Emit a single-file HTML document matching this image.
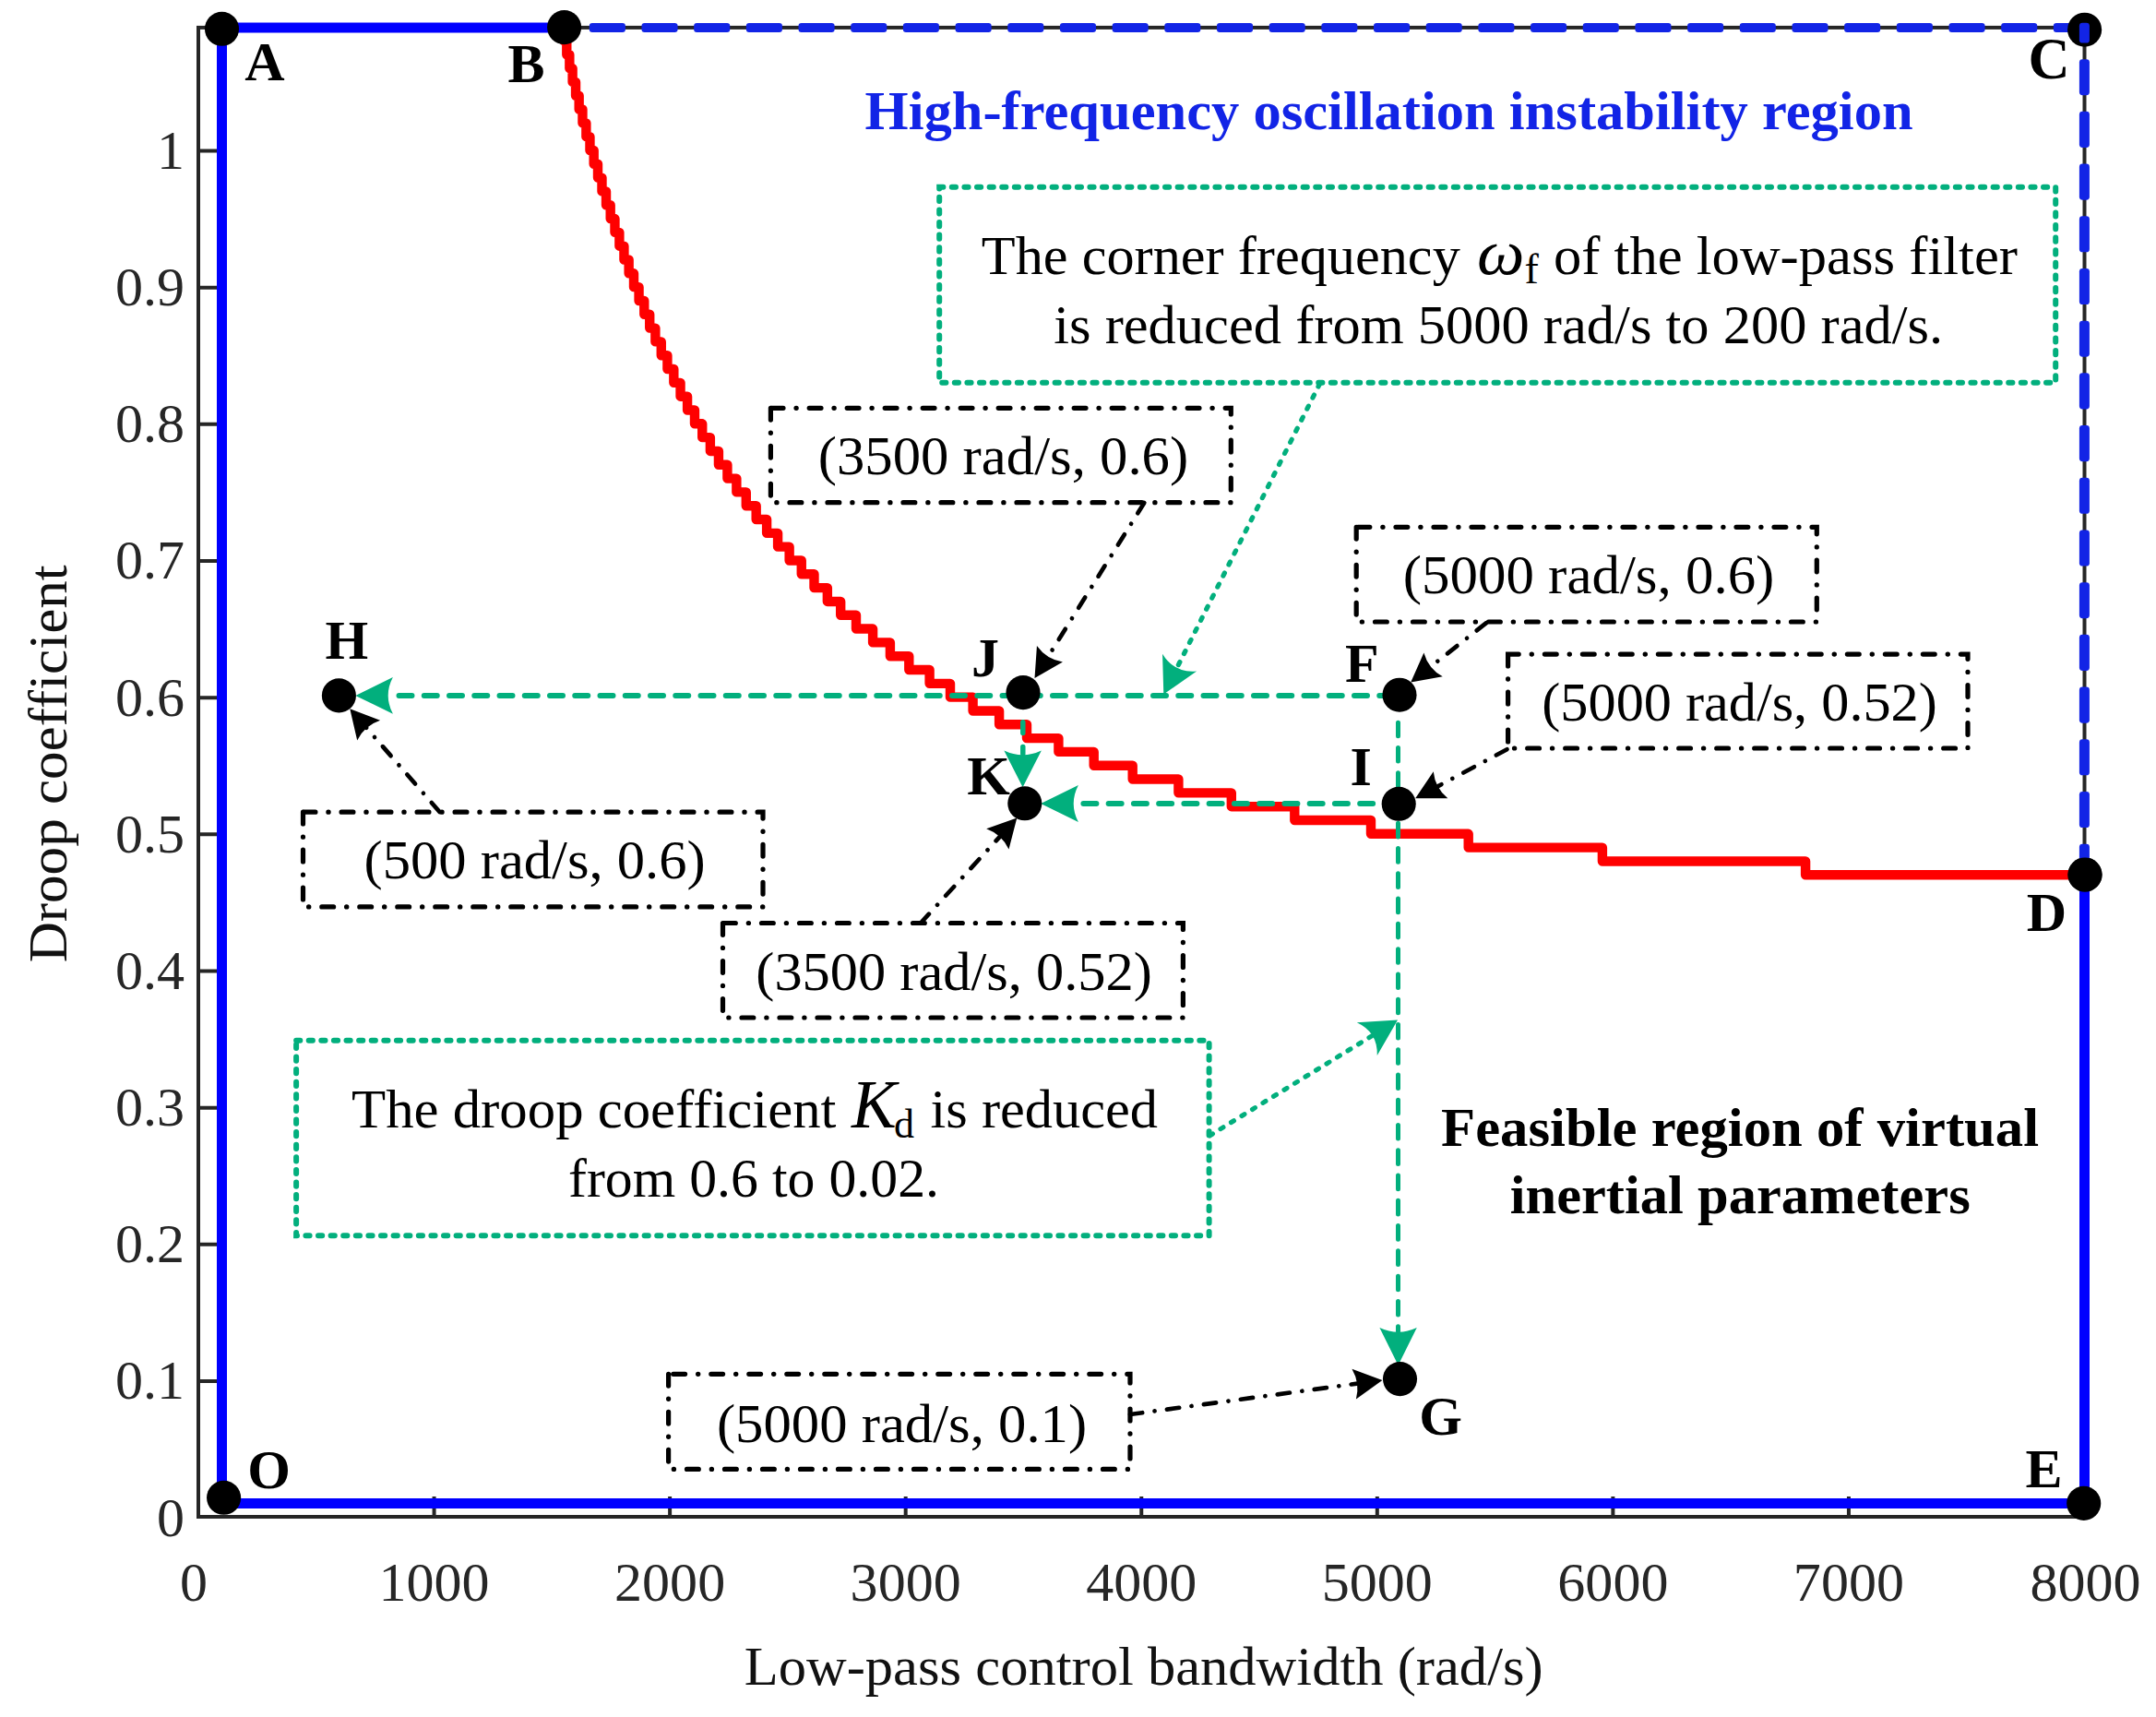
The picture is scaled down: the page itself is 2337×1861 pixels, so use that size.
<!DOCTYPE html>
<html lang="en">
<head>
<meta charset="utf-8">
<title>Feasible region of virtual inertial parameters</title>
<style>
html,body{margin:0;padding:0;background:#fff;}
svg{display:block;}
text{font-family:"Liberation Serif",serif;white-space:pre;}
</style>
</head>
<body>
<svg width="2337" height="1861" viewBox="0 0 2337 1861">
<rect width="2337" height="1861" fill="#fff"/>
<rect x="215" y="29.9" width="2044.5" height="1614.1" fill="none" stroke="#262626" stroke-width="4"/>
<path d="M470.56 1644V1622M726.12 1644V1622M981.69 1644V1622M1237.25 1644V1622M1492.81 1644V1622M1748.38 1644V1622M2003.94 1644V1622M215 1497H237M215 1348.83H237M215 1200.66H237M215 1052.49H237M215 904.32H237M215 756.15H237M215 607.98H237M215 459.81H237M215 311.64H237M215 163.47H237" stroke="#262626" stroke-width="4" fill="none"/>
<g font-size="58.3" fill="#262626" text-anchor="middle">
<text x="210" y="1735" textLength="30.02" lengthAdjust="spacingAndGlyphs">0</text>
<text x="470.56" y="1735" textLength="120.1" lengthAdjust="spacingAndGlyphs">1000</text>
<text x="726.12" y="1735" textLength="120.1" lengthAdjust="spacingAndGlyphs">2000</text>
<text x="981.69" y="1735" textLength="120.1" lengthAdjust="spacingAndGlyphs">3000</text>
<text x="1237.25" y="1735" textLength="120.1" lengthAdjust="spacingAndGlyphs">4000</text>
<text x="1492.81" y="1735" textLength="120.1" lengthAdjust="spacingAndGlyphs">5000</text>
<text x="1748.38" y="1735" textLength="120.1" lengthAdjust="spacingAndGlyphs">6000</text>
<text x="2003.94" y="1735" textLength="120.1" lengthAdjust="spacingAndGlyphs">7000</text>
<text x="2260.5" y="1735" textLength="120.1" lengthAdjust="spacingAndGlyphs">8000</text>
</g>
<g font-size="58.3" fill="#262626" text-anchor="end">
<text x="200" y="1664.57" textLength="30.02" lengthAdjust="spacingAndGlyphs">0</text>
<text x="200" y="1516.4" textLength="75.06" lengthAdjust="spacingAndGlyphs">0.1</text>
<text x="200" y="1368.23" textLength="75.06" lengthAdjust="spacingAndGlyphs">0.2</text>
<text x="200" y="1220.06" textLength="75.06" lengthAdjust="spacingAndGlyphs">0.3</text>
<text x="200" y="1071.89" textLength="75.06" lengthAdjust="spacingAndGlyphs">0.4</text>
<text x="200" y="923.72" textLength="75.06" lengthAdjust="spacingAndGlyphs">0.5</text>
<text x="200" y="775.55" textLength="75.06" lengthAdjust="spacingAndGlyphs">0.6</text>
<text x="200" y="627.38" textLength="75.06" lengthAdjust="spacingAndGlyphs">0.7</text>
<text x="200" y="479.21" textLength="75.06" lengthAdjust="spacingAndGlyphs">0.8</text>
<text x="200" y="331.04" textLength="75.06" lengthAdjust="spacingAndGlyphs">0.9</text>
<text x="200" y="182.87" textLength="30.02" lengthAdjust="spacingAndGlyphs">1</text>
</g>
<text id="xl" x="1239.7" y="1826.1" font-size="58.3" text-anchor="middle" fill="#111" textLength="866" lengthAdjust="spacingAndGlyphs">Low-pass control bandwidth (rad/s)</text>
<text id="yl" transform="translate(71.7 827.8) rotate(-90)" font-size="58.3" text-anchor="middle" fill="#111" textLength="431" lengthAdjust="spacingAndGlyphs">Droop coefficient</text>
<path d="M611.6 30.0H240.5V1629.4H2259.5V948" fill="none" stroke="#0000ff" stroke-width="11" stroke-linejoin="miter"/>
<path d="M611.6 30.12H611.43V44.93H614.29V59.75H617.35V74.57H620.61V89.38H624.05V104.2H627.67V119.02H631.45V133.84H635.38V148.65H639.46V163.47H643.68V178.29H648.01V193.1H652.47V207.92H657.02V222.74H661.69V237.56H666.47V252.37H671.38V267.19H676.44V282.01H681.64V296.82H687.01V311.64H692.56V326.46H698.3V341.27H704.23V356.09H710.38V370.91H716.77V385.73H723.41V400.54H730.33V415.36H737.55V430.18H745.09V444.99H752.98V459.81H761.24V474.63H769.88V489.44H778.93V504.26H788.42V519.08H798.36V533.89H808.77V548.71H819.69V563.53H831.12V578.35H843.1V593.16H855.63V607.98H868.76V622.8H882.49V637.61H896.85V652.43H911.2V667.25H928V682.07H946.1V696.88H964.9V711.7H985.3V726.52H1007.6V741.33H1030V756.15H1054.6V770.97H1083.1V785.78H1113V800.6H1147.4V815.42H1185.7V830.24H1227.7V845.05H1277.4V859.87H1334.8V874.69H1403.3V889.5H1486V904.32H1591.7V919.14H1736.9V933.95H1957.1V948.77H2259.5" fill="none" stroke="#ff0000" stroke-width="10.4" stroke-linejoin="round" transform="translate(0 -0.5)"/>
<path d="M432.5 753.9H1517" fill="none" stroke="#02af7d" stroke-width="6" stroke-linecap="round" stroke-dasharray="14 13.25" id="gHF"/>
<path d="M1174.4 871H1516" fill="none" stroke="#02af7d" stroke-width="6" stroke-linecap="round" stroke-dasharray="14 13.25" id="gIK"/>
<path d="M1515.5 783.2V1443" fill="none" stroke="#02af7d" stroke-width="5" stroke-linecap="round" stroke-dasharray="14.6 12.67" id="gFG"/>
<path d="M1108.8 782.8V794.6M1108.8 809.4V817" fill="none" stroke="#02af7d" stroke-width="5.5" stroke-linecap="round" id="gJK"/>
<path d="M385.3 753.9L425.9 734.1Q415.5 753.9 425.9 773.7Z" fill="#02af7d"/>
<path d="M1128.1 871L1168.9 850.9Q1158.5 871 1168.9 891.1Z" fill="#02af7d"/>
<path d="M1108.6 853.3L1088.35 813.5Q1108.6 823.1 1128.85 813.5Z" fill="#02af7d"/>
<path d="M1515.6 1479.7L1495.4 1439Q1515.6 1448.6 1535.8 1439Z" fill="#02af7d"/>
<rect x="1018.2" y="202.8" width="1210" height="212" fill="none" stroke="#02af7d" stroke-width="6" stroke-linecap="round" stroke-dasharray="4.2 9.4"/>
<rect x="321.1" y="1127.7" width="989.5" height="211.5" fill="none" stroke="#02af7d" stroke-width="6" stroke-linecap="round" stroke-dasharray="4.2 9.4"/>
<path d="M1430.5 416L1274.78 725.7" fill="none" stroke="#02af7d" stroke-width="5.2" stroke-linecap="round" stroke-dasharray="3.4 10.1"/>
<path d="M1261.3 752.5L1260.06 708.78Q1272.76 729.72 1297.13 727.43Z" fill="#02af7d"/>
<path d="M1311.5 1230.7L1489.44 1121.31" fill="none" stroke="#02af7d" stroke-width="5.2" stroke-linecap="round" stroke-dasharray="3.4 10.1"/>
<path d="M1515 1105.6L1492.77 1143.91Q1493.7 1118.69 1470.78 1108.13Z" fill="#02af7d"/>
<path id="b1" d="M835.4 442.3V544.7H1334.3V442.3Z" fill="none" stroke="#000" stroke-width="5.2" stroke-linecap="round" stroke-dasharray="12.8 14 0.2 14"/>
<path id="b2" d="M1470.2 571.3V674H1969.3V571.3Z" fill="none" stroke="#000" stroke-width="5.2" stroke-linecap="round" stroke-dasharray="12.8 14 0.2 14"/>
<path id="b3" d="M1634.6 709.1V811H2133V709.1Z" fill="none" stroke="#000" stroke-width="5.2" stroke-linecap="round" stroke-dasharray="12.8 14 0.2 14"/>
<path id="b4" d="M328.5 880.2V982.9H827V880.2Z" fill="none" stroke="#000" stroke-width="5.2" stroke-linecap="round" stroke-dasharray="12.8 14 0.2 14"/>
<path id="b5" d="M783.5 1000.5V1103H1282.4V1000.5Z" fill="none" stroke="#000" stroke-width="5.2" stroke-linecap="round" stroke-dasharray="12.8 14 0.2 14"/>
<path id="b6" d="M724.6 1489.3V1592.4H1225V1489.3Z" fill="none" stroke="#000" stroke-width="5.2" stroke-linecap="round" stroke-dasharray="12.8 14 0.2 14"/>
<path d="M1240.3 545L1133.16 716.35" fill="none" stroke="#000" stroke-width="4.7" stroke-linecap="round" stroke-dasharray="13.3 13.5 0.01 13.5"/>
<path d="M1121.5 735L1123.94 699.97Q1134.33 714.48 1151.93 717.46Z" fill="#000"/>
<path d="M1611.1 675.2L1546.5 725.91" fill="none" stroke="#000" stroke-width="4.7" stroke-linecap="round" stroke-dasharray="13.3 13.5 0.01 13.5"/>
<path d="M1529.2 739.5L1543.39 707.38Q1548.23 724.56 1563.77 733.33Z" fill="#000"/>
<path d="M1633.5 812.2L1553.6 854.93" fill="none" stroke="#000" stroke-width="4.7" stroke-linecap="round" stroke-dasharray="13.3 13.5 0.01 13.5"/>
<path d="M1534.2 865.3L1553.76 836.13Q1555.54 853.89 1569.32 865.23Z" fill="#000"/>
<path d="M476.5 880L393.73 784.8" fill="none" stroke="#000" stroke-width="4.7" stroke-linecap="round" stroke-dasharray="13.3 13.5 0.01 13.5"/>
<path d="M379.3 768.2L412.09 780.77Q395.18 786.46 387.19 802.42Z" fill="#000"/>
<path d="M997.9 1000.5L1087.43 902.82" fill="none" stroke="#000" stroke-width="4.7" stroke-linecap="round" stroke-dasharray="13.3 13.5 0.01 13.5"/>
<path d="M1102.3 886.6L1093.52 920.6Q1085.95 904.44 1069.19 898.3Z" fill="#000"/>
<path d="M1225 1533L1476.6 1498.86" fill="none" stroke="#000" stroke-width="4.7" stroke-linecap="round" stroke-dasharray="13.3 13.5 0.01 13.5"/>
<path d="M1498.4 1495.9L1469.9 1516.42Q1474.42 1499.15 1465.46 1483.72Z" fill="#000"/>
<g fill="#1224e6">
<rect x="638.8" y="24.9" width="39.1" height="10" rx="3.2"/>
<rect x="695.48" y="24.9" width="39.1" height="10" rx="3.2"/>
<rect x="752.16" y="24.9" width="39.1" height="10" rx="3.2"/>
<rect x="808.84" y="24.9" width="39.1" height="10" rx="3.2"/>
<rect x="865.52" y="24.9" width="39.1" height="10" rx="3.2"/>
<rect x="922.2" y="24.9" width="39.1" height="10" rx="3.2"/>
<rect x="978.88" y="24.9" width="39.1" height="10" rx="3.2"/>
<rect x="1035.56" y="24.9" width="39.1" height="10" rx="3.2"/>
<rect x="1092.24" y="24.9" width="39.1" height="10" rx="3.2"/>
<rect x="1148.92" y="24.9" width="39.1" height="10" rx="3.2"/>
<rect x="1205.6" y="24.9" width="39.1" height="10" rx="3.2"/>
<rect x="1262.28" y="24.9" width="39.1" height="10" rx="3.2"/>
<rect x="1318.96" y="24.9" width="39.1" height="10" rx="3.2"/>
<rect x="1375.64" y="24.9" width="39.1" height="10" rx="3.2"/>
<rect x="1432.32" y="24.9" width="39.1" height="10" rx="3.2"/>
<rect x="1489" y="24.9" width="39.1" height="10" rx="3.2"/>
<rect x="1545.68" y="24.9" width="39.1" height="10" rx="3.2"/>
<rect x="1602.36" y="24.9" width="39.1" height="10" rx="3.2"/>
<rect x="1659.04" y="24.9" width="39.1" height="10" rx="3.2"/>
<rect x="1715.72" y="24.9" width="39.1" height="10" rx="3.2"/>
<rect x="1772.4" y="24.9" width="39.1" height="10" rx="3.2"/>
<rect x="1829.08" y="24.9" width="39.1" height="10" rx="3.2"/>
<rect x="1885.76" y="24.9" width="39.1" height="10" rx="3.2"/>
<rect x="1942.44" y="24.9" width="39.1" height="10" rx="3.2"/>
<rect x="1999.12" y="24.9" width="39.1" height="10" rx="3.2"/>
<rect x="2055.8" y="24.9" width="39.1" height="10" rx="3.2"/>
<rect x="2112.48" y="24.9" width="39.1" height="10" rx="3.2"/>
<rect x="2169.16" y="24.9" width="39.1" height="10" rx="3.2"/>
<rect x="2225.84" y="24.9" width="39.1" height="10" rx="3.2"/>
</g>
<circle cx="240.5" cy="31.3" r="18.55" fill="#000"/>
<circle cx="611.6" cy="29.6" r="18.55" fill="#000"/>
<circle cx="2259.6" cy="32.2" r="18.55" fill="#000"/>
<circle cx="2260" cy="948" r="18.55" fill="#000"/>
<circle cx="2258.7" cy="1629.4" r="18.55" fill="#000"/>
<circle cx="242.6" cy="1623.3" r="18.55" fill="#000"/>
<circle cx="367.4" cy="753.9" r="18.55" fill="#000"/>
<circle cx="1109" cy="750.6" r="18.55" fill="#000"/>
<circle cx="1110.8" cy="870.8" r="18.55" fill="#000"/>
<circle cx="1517" cy="753.2" r="18.55" fill="#000"/>
<circle cx="1516.2" cy="871.3" r="18.55" fill="#000"/>
<circle cx="1517.5" cy="1494.6" r="18.55" fill="#000"/>
<g fill="#1224e6">
<rect x="2253.9" y="24.8" width="11" height="21.75" rx="3.4"/>
<rect x="2253.9" y="64.15" width="11" height="39.1" rx="3.4"/>
<rect x="2253.9" y="120.85" width="11" height="39.1" rx="3.4"/>
<rect x="2253.9" y="177.55" width="11" height="39.1" rx="3.4"/>
<rect x="2253.9" y="234.25" width="11" height="39.1" rx="3.4"/>
<rect x="2253.9" y="290.95" width="11" height="39.1" rx="3.4"/>
<rect x="2253.9" y="347.65" width="11" height="39.1" rx="3.4"/>
<rect x="2253.9" y="404.35" width="11" height="39.1" rx="3.4"/>
<rect x="2253.9" y="461.05" width="11" height="39.1" rx="3.4"/>
<rect x="2253.9" y="517.75" width="11" height="39.1" rx="3.4"/>
<rect x="2253.9" y="574.45" width="11" height="39.1" rx="3.4"/>
<rect x="2253.9" y="631.15" width="11" height="39.1" rx="3.4"/>
<rect x="2253.9" y="687.85" width="11" height="39.1" rx="3.4"/>
<rect x="2253.9" y="744.55" width="11" height="39.1" rx="3.4"/>
<rect x="2253.9" y="801.25" width="11" height="39.1" rx="3.4"/>
<rect x="2253.9" y="857.95" width="11" height="39.1" rx="3.4"/>
<rect x="2253.9" y="914.65" width="11" height="39.1" rx="3.4"/>
</g>
<circle cx="2260" cy="948" r="18.55" fill="#000"/>
<g font-size="60" font-weight="bold" fill="#000">
<text id="LA" x="265.3" y="86.8">A</text>
<text id="LB" x="550.6" y="89.3">B</text>
<text id="LC" x="2198.6" y="84.8" font-size="62.5">C</text>
<text id="LD" x="2196.8" y="1008.5">D</text>
<text id="LE" x="2195.4" y="1611.7">E</text>
<text id="LO" x="268.2" y="1612.6">O</text>
<text id="LH" x="352.6" y="713.6">H</text>
<text id="LJ" x="1053" y="733.2">J</text>
<text id="LK" x="1048.2" y="861.4">K</text>
<text id="LF" x="1458" y="738.6">F</text>
<text id="LI" x="1463.6" y="850.9">I</text>
<text id="LG" x="1538.2" y="1555.3">G</text>
</g>
<text id="t1" x="937.6" y="139.8" font-size="58.3" font-weight="bold" fill="#1224e6" textLength="1136" lengthAdjust="spacingAndGlyphs">High-frequency oscillation instability region</text>
<text id="t2" x="1562.1" y="1241.8" font-size="58.3" font-weight="bold" fill="#000" textLength="648" lengthAdjust="spacingAndGlyphs">Feasible region of virtual</text>
<text id="t3" x="1636.7" y="1314.8" font-size="58.3" font-weight="bold" fill="#000" textLength="499" lengthAdjust="spacingAndGlyphs">inertial parameters</text>
<g font-size="58.3" fill="#000">
<text id="a1" x="1063.8" y="296.5" textLength="519" lengthAdjust="spacingAndGlyphs">The corner frequency</text>
<text id="a1w" x="1601" y="296.5" font-size="70" font-style="italic" textLength="51.5" lengthAdjust="spacingAndGlyphs">ω</text>
<text id="a1f" x="1652.5" y="306.5" font-size="46">f</text>
<text id="a1b" x="1684" y="296.5" textLength="503" lengthAdjust="spacingAndGlyphs">of the low-pass filter</text>
<text id="a2" x="1142.2" textLength="964" lengthAdjust="spacingAndGlyphs" y="372">is reduced from 5000 rad/s to 200 rad/s.</text>
<text id="a3" x="381" y="1222" textLength="525.5" lengthAdjust="spacingAndGlyphs">The droop coefficient</text>
<text id="a3k" x="923" y="1222" font-size="73" font-style="italic">K</text>
<text id="a3d" x="969" y="1232.5" font-size="44">d</text>
<text id="a3b" x="1008.5" y="1222" textLength="246.5" lengthAdjust="spacingAndGlyphs">is reduced</text>
<text id="a4" x="616" textLength="402" lengthAdjust="spacingAndGlyphs" y="1297.3">from 0.6 to 0.02.</text>
<text id="c1" x="886.7" textLength="401.5" lengthAdjust="spacingAndGlyphs" y="513.6">(3500 rad/s, 0.6)</text>
<text id="c2" x="1520.8" textLength="402.6" lengthAdjust="spacingAndGlyphs" y="643">(5000 rad/s, 0.6)</text>
<text id="c3" x="1671.3" textLength="428.5" lengthAdjust="spacingAndGlyphs" y="781">(5000 rad/s, 0.52)</text>
<text id="c4" x="394.6" textLength="370.1" lengthAdjust="spacingAndGlyphs" y="951.7">(500 rad/s, 0.6)</text>
<text id="c5" x="819.3" textLength="429.5" lengthAdjust="spacingAndGlyphs" y="1073">(3500 rad/s, 0.52)</text>
<text id="c6" x="776.9" textLength="401.3" lengthAdjust="spacingAndGlyphs" y="1563.2">(5000 rad/s, 0.1)</text>
</g>
</svg>
</body>
</html>
